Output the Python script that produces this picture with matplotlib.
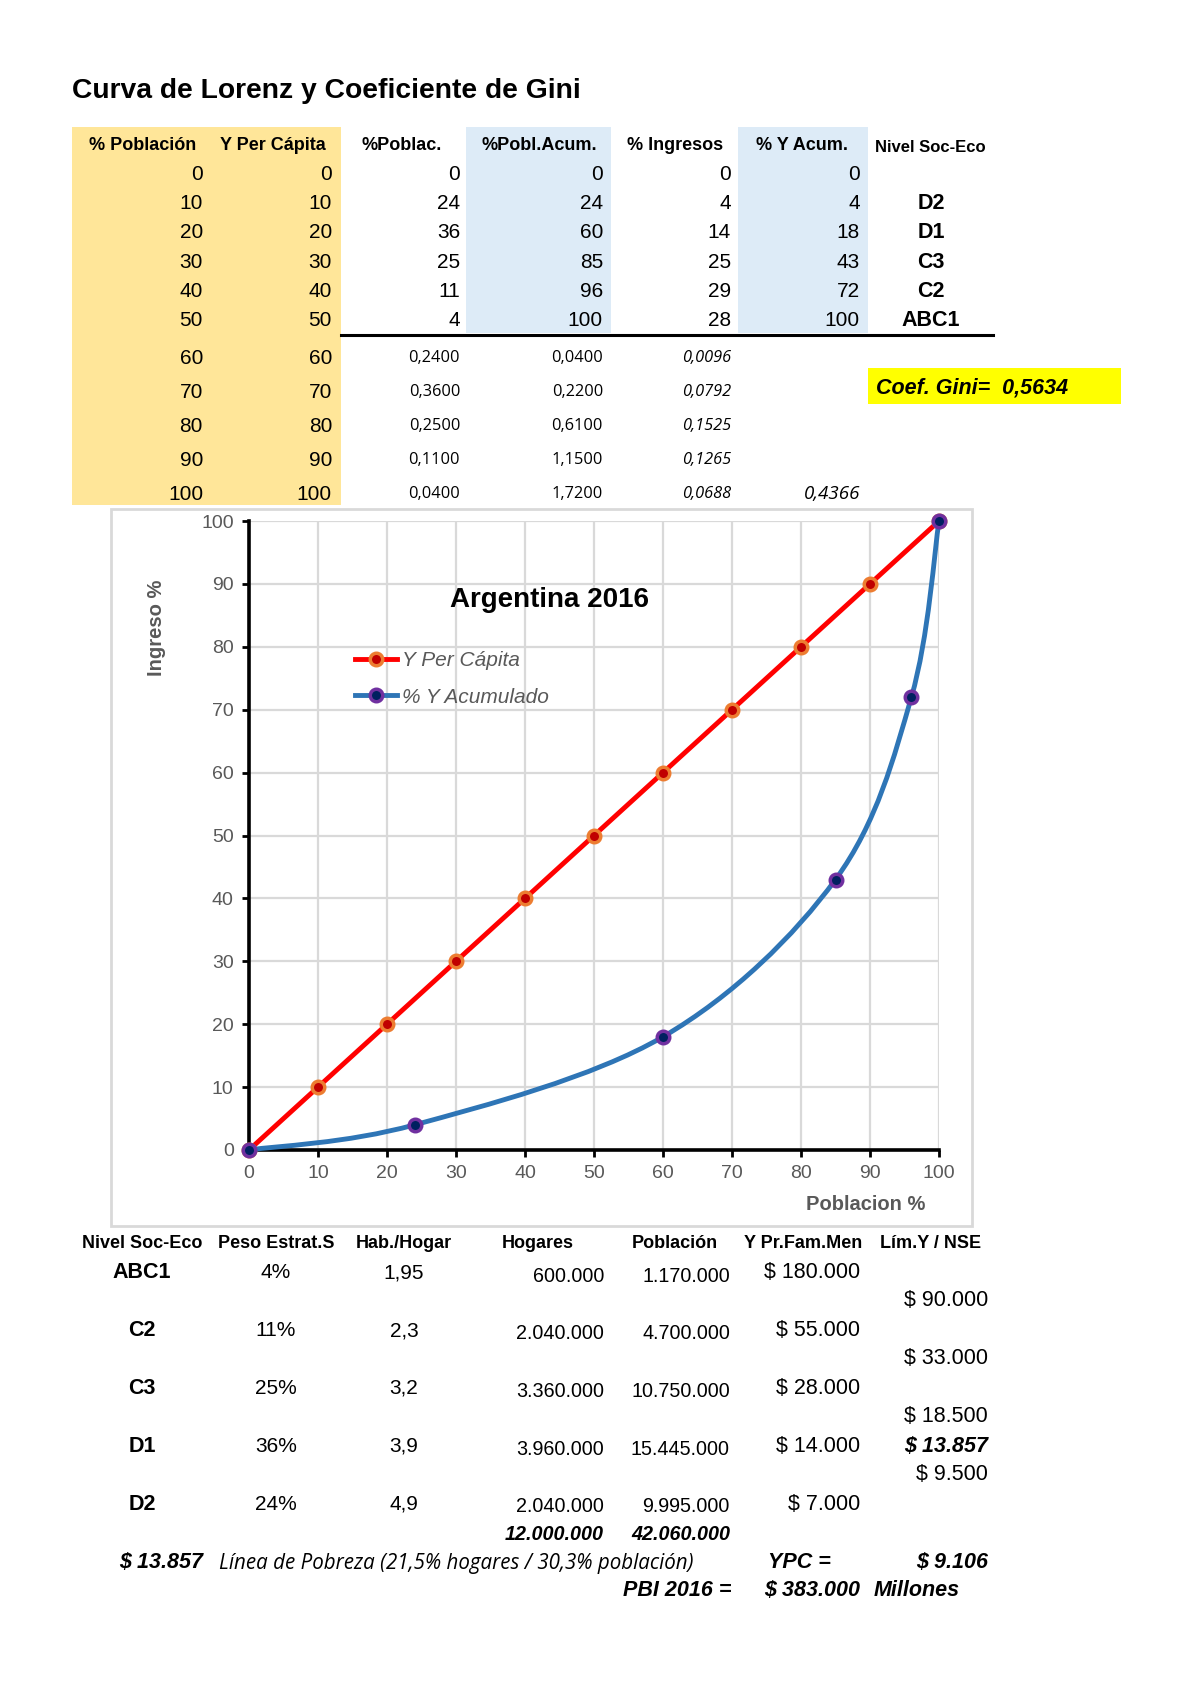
import numpy as np
import matplotlib.pyplot as plt
from matplotlib.path import Path
from matplotlib.patches import PathPatch, Rectangle
from matplotlib.lines import Line2D

# --- datos tabla superior ---
pob = [0, 10, 20, 30, 40, 50, 60, 70, 80, 90, 100]
ypc = [0, 10, 20, 30, 40, 50, 60, 70, 80, 90, 100]
pob_pct = [0, 24, 36, 25, 11, 4]
pob_acum = [0, 24, 60, 85, 96, 100]
ing_pct = [0, 4, 14, 25, 29, 28]
y_acum = [0, 4, 18, 43, 72, 100]
nse_top = ['', 'D2', 'D1', 'C3', 'C2', 'ABC1']
calc_a = [0.24, 0.36, 0.25, 0.11, 0.04]
calc_b = [0.04, 0.22, 0.61, 1.15, 1.72]
calc_c = [0.0096, 0.0792, 0.1525, 0.1265, 0.0688]
suma_area = 0.4366
gini = 0.5634

# --- datos tabla inferior ---
niveles = ['ABC1', 'C2', 'C3', 'D1', 'D2']
peso = ['4%', '11%', '25%', '36%', '24%']
hab_hogar = ['1,95', '2,3', '3,2', '3,9', '4,9']
hogares = [600000, 2040000, 3360000, 3960000, 2040000]
poblacion = [1170000, 4700000, 10750000, 15445000, 9995000]
y_fam = [180000, 55000, 28000, 14000, 7000]
lim_nse = [90000, 33000, 18500, 13857, 9500]
tot_hogares = 12000000
tot_poblacion = 42060000
linea_pobreza = 13857
ypc_val = 9106
pbi = 383000

W, H = 1200, 1696
fig = plt.figure(figsize=(12, 16.96), dpi=100)

NARROW = ['Liberation Sans Narrow', 'Liberation Sans', 'DejaVu Sans']
ARIAL = ['Liberation Sans', 'DejaVu Sans']
CALI = ['Open Sans', 'DejaVu Sans']


def T(x, y, s, ha='left', size=13.5, family=ARIAL, **kw):
    fig.text(x / W, 1 - y / H, s, ha=ha, va='center', fontsize=size,
             family=family, **kw)


def rect(x0, y0, x1, y1, **kw):
    fig.patches.append(Rectangle((x0 / W, 1 - y1 / H), (x1 - x0) / W, (y1 - y0) / H,
                                 transform=fig.transFigure, figure=fig, **kw))


def miles(v):
    return f"{v:,}".replace(',', '.')


def dec(v):
    return f"{v:.4f}".replace('.', ',')


# titulo
T(72, 91, 'Curva de Lorenz y Coeficiente de Gini', size=20.3, weight='bold')

# fondos
rect(72, 127, 341, 505, color='#ffe699', lw=0)
rect(466, 127, 611, 333, color='#ddebf7', lw=0)
rect(738, 127, 868, 333, color='#ddebf7', lw=0)
fig.add_artist(Line2D([341 / W, 993 / W], [1 - 335 / H, 1 - 335 / H], color='black', lw=2.2))

# encabezados
hy = 145
for cx, txt in [(143, '% Población'), (273, 'Y Per Cápita'), (402, '%Poblac.'),
                (539, '%Pobl.Acum.'), (675, '% Ingresos'), (802, '% Y Acum.')]:
    T(cx, hy, txt, ha='center', size=13, family=NARROW, weight='bold')
T(930, hy + 2, 'Nivel Soc-Eco', ha='center', size=12, family=NARROW, weight='bold')

row_top = np.linspace(174, 321, 6)
row_low = np.linspace(358, 494, 5)
rows_all = list(row_top) + list(row_low)
for i, y in enumerate(rows_all):
    T(203, y, str(pob[i]), ha='right', family=NARROW, size=15)
    T(332, y, str(ypc[i]), ha='right', family=NARROW, size=15)
for i, y in enumerate(row_top):
    T(460, y, str(pob_pct[i]), ha='right', family=NARROW, size=15)
    T(603, y, str(pob_acum[i]), ha='right', family=NARROW, size=15)
    T(731, y, str(ing_pct[i]), ha='right', family=NARROW, size=15)
    T(860, y, str(y_acum[i]), ha='right', family=NARROW, size=15)
    T(931, y, nse_top[i], ha='center', size=15.5, weight='bold')
for i, y in enumerate(row_low):
    T(460, y, dec(calc_a[i]), ha='right', size=11.8, family=CALI)
    T(603, y, dec(calc_b[i]), ha='right', size=11.8, family=CALI)
    T(731, y, dec(calc_c[i]), ha='right', size=11.8, family=CALI, style='italic')
T(860, row_low[-1], dec(suma_area), ha='right', size=13.5, family=CALI, style='italic')

rect(868, 368, 1121, 404, color='#ffff00', lw=0)
T(876, 388, 'Coef. Gini=  ' + dec(gini), size=15.5, weight='bold', style='italic')

# --- grafico ---
rect(111, 509, 972, 1226, fill=False, ec='#d9d9d9', lw=2)
ax = fig.add_axes([249 / W, 1 - 1150 / H, 690 / W, 629 / H])
ax.set_xlim(0, 100)
ax.set_ylim(0, 100)
ax.set_xticks(range(0, 101, 10))
ax.set_yticks(range(0, 101, 10))
ax.grid(True, color='#d9d9d9', lw=1.6)
ax.set_axisbelow(True)
for s in ['top', 'right']:
    ax.spines[s].set_visible(False)
for s in ['left', 'bottom']:
    ax.spines[s].set_linewidth(2.6)
    ax.spines[s].set_zorder(2)
ax.tick_params(length=5, width=2, color='black', labelcolor='#595959', labelsize=14, pad=6)
for lab in ax.get_xticklabels() + ax.get_yticklabels():
    lab.set_family(NARROW)

ax.plot(pob, ypc, color='#ff0000', lw=3.5, marker='o', ms=9, mfc='#c00000',
        mec='#ed7d31', mew=2.5, clip_on=False, zorder=3)

# curva suavizada (Bezier tipo Excel) por los puntos de la serie
pts = np.column_stack([pob_acum, y_acum]).astype(float)
P = np.vstack([pts[0], pts, pts[-1]])
verts = [pts[0]]
codes = [Path.MOVETO]
for i in range(len(pts) - 1):
    p0, p1, p2, p3 = P[i], P[i + 1], P[i + 2], P[i + 3]
    verts += [p1 + (p2 - p0) / 6, p2 - (p3 - p1) / 6, p2]
    codes += [Path.CURVE4] * 3
ax.add_patch(PathPatch(Path(verts, codes), fill=False, ec='#2e75b6', lw=3.5,
                       clip_on=False, zorder=4))
ax.plot(pob_acum, y_acum, ls='none', marker='o', ms=9, mfc='#002060',
        mec='#7030a0', mew=2.5, clip_on=False, zorder=5)

ax.text(43.6, 87.5, 'Argentina 2016', ha='center', va='center', fontsize=20,
        weight='bold', family=ARIAL)

h1 = Line2D([], [], color='#ff0000', lw=3.5, marker='o', ms=9, mfc='#c00000', mec='#ed7d31', mew=2.5)
h2 = Line2D([], [], color='#2e75b6', lw=3.5, marker='o', ms=9, mfc='#002060', mec='#7030a0', mew=2.5)
leg = ax.legend([h1, h2], ['Y Per Cápita', '% Y Acumulado'], loc='upper left',
                bbox_to_anchor=(355 / W, 1 - 651 / H), bbox_transform=fig.transFigure,
                frameon=False, numpoints=1, handlelength=2.0, handletextpad=0.25,
                labelspacing=0.85, borderpad=0, borderaxespad=0,
                prop={'family': ARIAL, 'style': 'italic', 'size': 15})
for t in leg.get_texts():
    t.set_color('#595959')

T(157, 628, 'Ingreso %', ha='center', size=14.5, color='#595959', rotation=90, weight='bold')
T(866, 1204, 'Poblacion %', ha='center', size=14.5, color='#595959', family=NARROW, weight='bold')

# --- tabla inferior ---
hy2 = 1243
for cx, txt in [(142, 'Nivel Soc-Eco'), (276, 'Peso Estrat.S'), (404, 'Hab./Hogar'),
                (538, 'Hogares'), (675, 'Población'), (803, 'Y Pr.Fam.Men'), (931, 'Lím.Y / NSE')]:
    T(cx, hy2, txt, ha='center', size=13, family=NARROW, weight='bold')

row_b = np.linspace(1273, 1504, 5)
for i, y in enumerate(row_b):
    T(142, y, niveles[i], ha='center', size=15.5, weight='bold')
    T(276, y, peso[i], ha='center', size=15)
    T(404, y, hab_hogar[i], ha='center', size=15)
    T(604, y + 3, miles(hogares[i]), ha='right', size=14.2)
    T(730, y + 3, miles(poblacion[i]), ha='right', size=14.2)
    T(860, y, '$ ' + miles(y_fam[i]), ha='right', size=15.5)

lim_y = [1301, 1359, 1417, 1447, 1475]
for i, y in enumerate(lim_y):
    bold = lim_nse[i] == linea_pobreza
    T(988, y, '$ ' + miles(lim_nse[i]), ha='right', size=15.5,
      weight='bold' if bold else 'normal', style='italic' if bold else 'normal')

T(604, 1535, miles(tot_hogares), ha='right', size=14.2, weight='bold', style='italic')
T(730, 1535, miles(tot_poblacion), ha='right', size=14.2, weight='bold', style='italic')

T(119, 1562, '$ ' + miles(linea_pobreza), size=15.5, weight='bold', style='italic')
T(219, 1563, 'Línea de Pobreza (21,5% hogares / 30,3% población)', size=14.8,
  family=CALI, style='italic')
T(831, 1562, 'YPC =', ha='right', size=15.5, weight='bold', style='italic')
T(988, 1562, '$ ' + miles(ypc_val), ha='right', size=15.5, weight='bold', style='italic')
T(731, 1591, 'PBI 2016 =', ha='right', size=15.5, weight='bold', style='italic')
T(860, 1591, '$ ' + miles(pbi), ha='right', size=15.5, weight='bold', style='italic')
T(874, 1591, 'Millones', size=15.5, weight='bold', style='italic')

fig.savefig('out.png', dpi=100, facecolor='white')
